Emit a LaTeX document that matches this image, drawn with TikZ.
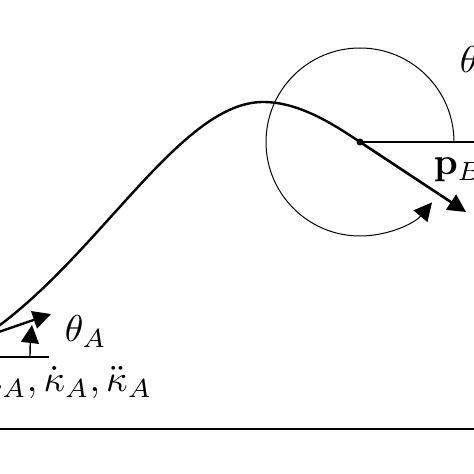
\documentclass[tikz,border=0pt]{standalone}
\usetikzlibrary{arrows.meta}
\begin{document}
\begin{tikzpicture}[x=1pt,y=1pt,
  lbl/.style={inner sep=0pt,scale=3.75},
  bigtip/.style={-{Triangle[length=18pt,width=18pt]}},
  thinline/.style={line width=1pt},
  midline/.style={line width=1.4pt},
  thickline/.style={line width=2.4pt}]
\useasboundingbox (0,0) rectangle (474,474);
\clip (0,0) rectangle (474,474);
% points
\coordinate (pB) at (360,332);
\coordinate (peak) at (263,372);
\coordinate (start) at (0,149);
\coordinate (hAend) at (49,117);
\coordinate (hBend) at (480,332);
\coordinate (arcA0) at (30,117);
\coordinate (arcA1) at (32,149);
\coordinate (tA0) at (-10,139);
\coordinate (tA1) at (51,160);
\coordinate (tB1) at (466,262);
\coordinate (g0) at (0,45);
\coordinate (g1) at (474,45);
% ground line
\draw[line width=2.6pt] (g0) -- (g1);
% main curve
\draw[thickline] (-20,138) .. controls (-10,142) and (-4,146) .. (start)
  .. controls (104,227) and (183,372) .. (peak)
  .. controls (298,372) and (331,351.4) .. (pB);
% point B
\fill (pB) circle (3.5pt);
\draw[midline] (pB) -- (hBend);
\draw[thinline,bigtip] ([shift={(0:94)}]pB) arc[start angle=0,end angle=320,radius=94];
\draw[line width=2.6pt,bigtip] (pB) -- (tB1);
% point A
\draw[midline] (-20,117) -- (hAend);
\draw[midline,bigtip] (arcA0) to[bend left=3] (arcA1);
\draw[line width=2.4pt,bigtip] (tA0) -- (tA1);
% labels
\node[lbl,anchor=base west] (thA) at (64,132) {$\theta_A$};
\node[lbl,anchor=base east] (kap) at (153,82) {$\kappa_A,\dot{\kappa}_A,\ddot{\kappa}_A$};
\node[lbl,anchor=base west] (pBl) at (433,299) {$\mathbf{p}_B$};
\node[lbl,anchor=base west] (thB) at (459,401) {$\theta_B$};
\end{tikzpicture}
\end{document}
